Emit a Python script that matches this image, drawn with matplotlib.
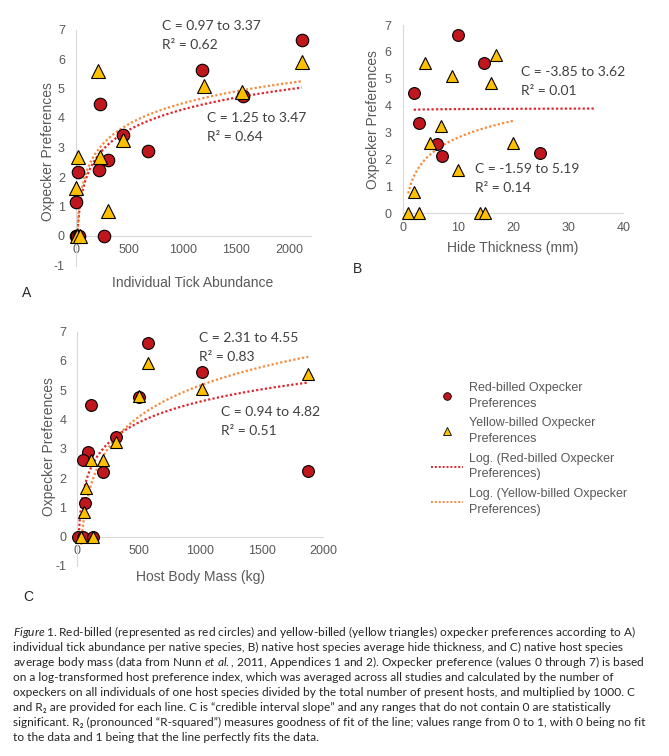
import numpy as np
import matplotlib
matplotlib.use("Agg")
import matplotlib.pyplot as plt
from matplotlib.lines import Line2D

plt.rcParams['mathtext.fontset'] = 'custom'
plt.rcParams['mathtext.rm'] = 'Lato'
plt.rcParams['mathtext.it'] = 'Lato:italic'
plt.rcParams['axes.unicode_minus'] = False

# --- data ---
# A) individual tick abundance
a_red_x = [2116, 1184, 1562, 225, 437, 672, 297, 212, 22, 3, 266, 0, 5, 30]
a_red_y = [6.66, 5.64, 4.74, 4.49, 3.42, 2.88, 2.57, 2.25, 2.17, 1.15, 0, 0, 0, 0]
a_yel_x = [2116, 203, 1200, 1553, 437, 22, 225, 0, 297, 8, 35]
a_yel_y = [5.9, 5.59, 5.08, 4.89, 3.27, 2.68, 2.68, 1.63, 0.85, 0, 0]

# B) hide thickness (mm)
b_red_x = [10.0, 14.8, 2.0, 3.0, 6.2, 7.1, 24.9]
b_red_y = [6.63, 5.6, 4.47, 3.36, 2.57, 2.14, 2.23]
b_yel_x = [16.9, 4.0, 9.0, 16.0, 7.0, 5.0, 20.0, 10.0, 2.0, 1.0, 3.0, 14.0, 15.0]
b_yel_y = [5.89, 5.58, 5.11, 4.83, 3.24, 2.63, 2.63, 1.61, 0.8, 0, 0, 0, 0]

# C) host body mass (kg)
c_red_x = [577, 1011, 504, 109, 315, 90, 49, 212, 1878, 63, 8, 44, 130]
c_red_y = [6.63, 5.61, 4.76, 4.5, 3.4, 2.9, 2.62, 2.22, 2.24, 1.16, 0, 0, 0]
c_yel_x = [577, 1878, 1011, 504, 315, 111, 212, 71, 54, 28, 130]
c_yel_y = [5.92, 5.57, 5.06, 4.8, 3.24, 2.62, 2.62, 1.66, 0.85, 0, 0]

# log trendlines y = a*ln(x) + b: (a, b, xstart, xend)
trend_a = {'red': (0.99, -2.55, 10, 2116), 'yel': (1.0, -2.41, 11, 2116)}
trend_b = {'red': (0.015, 3.84, 2, 35), 'yel': (0.90, 0.74, 1, 20)}
trend_c = {'red': (1.03, -2.5, 9, 1878), 'yel': (1.55, -5.54, 30, 1878)}

labels_a = [("C = 0.97 to 3.37", "R² = 0.62"), ("C = 1.25 to 3.47", "R² = 0.64")]
labels_b = [("C = -3.85 to 3.62", "R² = 0.01"), ("C = -1.59 to 5.19", "R² = 0.14")]
labels_c = [("C = 2.31 to 4.55", "R² = 0.83"), ("C = 0.94 to 4.82", "R² = 0.51")]

caption = [
    r"$\mathit{Figure\ 1.}$Red-billed (represented as red circles) and yellow-billed (yellow triangles) oxpecker preferences according to A)",
    "individual tick abundance per native species, B) native host species average hide thickness, and C) native host species",
    r"average body mass (data from Nunn $\mathit{et\ al.}$, 2011, Appendices 1 and 2). Oxpecker preference (values 0 through 7) is based",
    "on a log-transformed host preference index, which was averaged across all studies and calculated by the number of",
    "oxpeckers on all individuals of one host species divided by the total number of present hosts, and multiplied by 1000. C",
    "and R₂ are provided for each line. C is “credible interval slope” and any ranges that do not contain 0 are statistically",
    "significant. R₂ (pronounced “R-squared”) measures goodness of fit of the line; values range from 0 to 1, with 0 being no fit",
    "to the data and 1 being that the line perfectly fits the data.",
]

RED = '#C0161E'
YEL = '#FFC000'
RED_LINE = '#E0262C'
ORA_LINE = '#F58B3C'
GRAY = '#595959'
W, H = 669, 756

fig = plt.figure(figsize=(W / 100, H / 100), dpi=100)


def px(x, y):
    return x / W, 1 - y / H


def make_axes(left, top, right, bottom):
    ax = fig.add_axes([left / W, 1 - bottom / H, (right - left) / W, (bottom - top) / H])
    for s in ['top', 'right']:
        ax.spines[s].set_visible(False)
    ax.spines['left'].set_color('#D9D9D9')
    ax.spines['bottom'].set_color('#D9D9D9')
    ax.spines['bottom'].set_position(('data', 0))
    ax.tick_params(length=0, labelsize=9, colors=GRAY)
    ax.tick_params(axis='x', pad=6)
    ax.tick_params(axis='y', pad=8)
    ax.patch.set_visible(False)
    return ax


def draw_panel(ax, rx, ry, yx, yy, trend, ms):
    ax.plot(rx, ry, 'o', ms=ms, mfc=RED, mec='black', mew=0.8, clip_on=False, zorder=3)
    ax.plot(yx, yy, '^', ms=ms + 0.5, mfc=YEL, mec='black', mew=0.8, clip_on=False, zorder=4)
    for key, col in [('red', RED_LINE), ('yel', ORA_LINE)]:
        a, b, x0, x1 = trend[key]
        xs = np.geomspace(x0, x1, 200)
        ax.plot(xs, a * np.log(xs) + b, color=col, lw=1.6, ls=(0, (1, 1)), zorder=2)


def put_text(x, y, s, **kw):
    fx, fy = px(x, y)
    fig.text(fx, fy, s, **kw)


# panel A
axA = make_axes(76, 29.5, 310.7, 265.5)
axA.set_xlim(0, 2200)
axA.set_ylim(-1, 7)
axA.set_xticks([0, 500, 1000, 1500, 2000])
axA.set_yticks(range(-1, 8))
draw_panel(axA, a_red_x, a_red_y, a_yel_x, a_yel_y, trend_a, 9)

# panel B
axB = make_axes(402.7, 25, 623.3, 213.3)
axB.set_xlim(0, 40)
axB.set_ylim(0, 7)
axB.set_xticks([0, 10, 20, 30, 40])
axB.set_yticks(range(0, 8))
draw_panel(axB, b_red_x, b_red_y, b_yel_x, b_yel_y, trend_b, 8.5)

# panel C
axC = make_axes(77.3, 331.7, 323.3, 566)
axC.set_xlim(0, 2000)
axC.set_ylim(-1, 7)
axC.set_xticks([0, 500, 1000, 1500, 2000])
axC.set_yticks(range(-1, 8))
draw_panel(axC, c_red_x, c_red_y, c_yel_x, c_yel_y, trend_c, 8.5)

for ax in (axA, axB, axC):
    for t in ax.get_xticklabels() + ax.get_yticklabels():
        t.set_family('Liberation Sans')

# axis titles
lab = dict(fontsize=10, color=GRAY, family='Liberation Sans', ha='center', va='center')
put_text(48, 152, "Oxpecker Preferences", rotation=90, **lab)
put_text(193, 283, "Individual Tick Abundance", **lab)
put_text(373, 120, "Oxpecker Preferences", rotation=90, **lab)
put_text(513, 248, "Hide Thickness (mm)", **lab)
put_text(49, 447, "Oxpecker Preferences", rotation=90, **lab)
put_text(200, 577, "Host Body Mass (kg)", **lab)

letter = dict(fontsize=10, color='#262626', family='Liberation Sans', ha='center', va='center')
put_text(27, 293, "A", **letter)
put_text(357, 269, "B", **letter)
put_text(28, 597, "C", **letter)

# fit annotations
ann = dict(fontsize=10, color='#404040', family='Lato', ha='left', va='center')
for (c_txt, r_txt), (x, y) in zip(labels_a + labels_b + labels_c,
                                  [(162, 26), (207, 118), (521, 72), (475, 169),
                                   (199, 338), (221, 412)]):
    put_text(x, y, c_txt, **ann)
    put_text(x, y + 19, r_txt, **ann)

# legend
handles = [
    Line2D([], [], ls='none', marker='o', ms=5.5, mfc=RED, mec='black', mew=0.6),
    Line2D([], [], ls='none', marker='^', ms=5.5, mfc=YEL, mec='black', mew=0.6),
    Line2D([], [], color=RED_LINE, lw=1.4, ls=(0, (1, 1))),
    Line2D([], [], color=ORA_LINE, lw=1.4, ls=(0, (1, 1))),
]
names = ["Red-billed Oxpecker\nPreferences", "Yellow-billed Oxpecker\nPreferences",
         "Log. (Red-billed Oxpecker\nPreferences)", "Log. (Yellow-billed Oxpecker\nPreferences)"]
leg = fig.legend(handles, names, loc='upper left', bbox_to_anchor=px(426, 377),
                 frameon=False, handlelength=2.55, handletextpad=0.5, labelspacing=0.62,
                 borderaxespad=0, prop={'family': 'Liberation Sans', 'size': 9})
for t in leg.get_texts():
    t.set_color(GRAY)
    t.set_linespacing(1.4)

# caption
for i, line in enumerate(caption):
    put_text(13, 636 + 15 * i, line, fontsize=8.6, color='#262626',
             family=['Lato', 'DejaVu Sans'], ha='left', va='baseline')

fig.savefig('out.png', dpi=100)
